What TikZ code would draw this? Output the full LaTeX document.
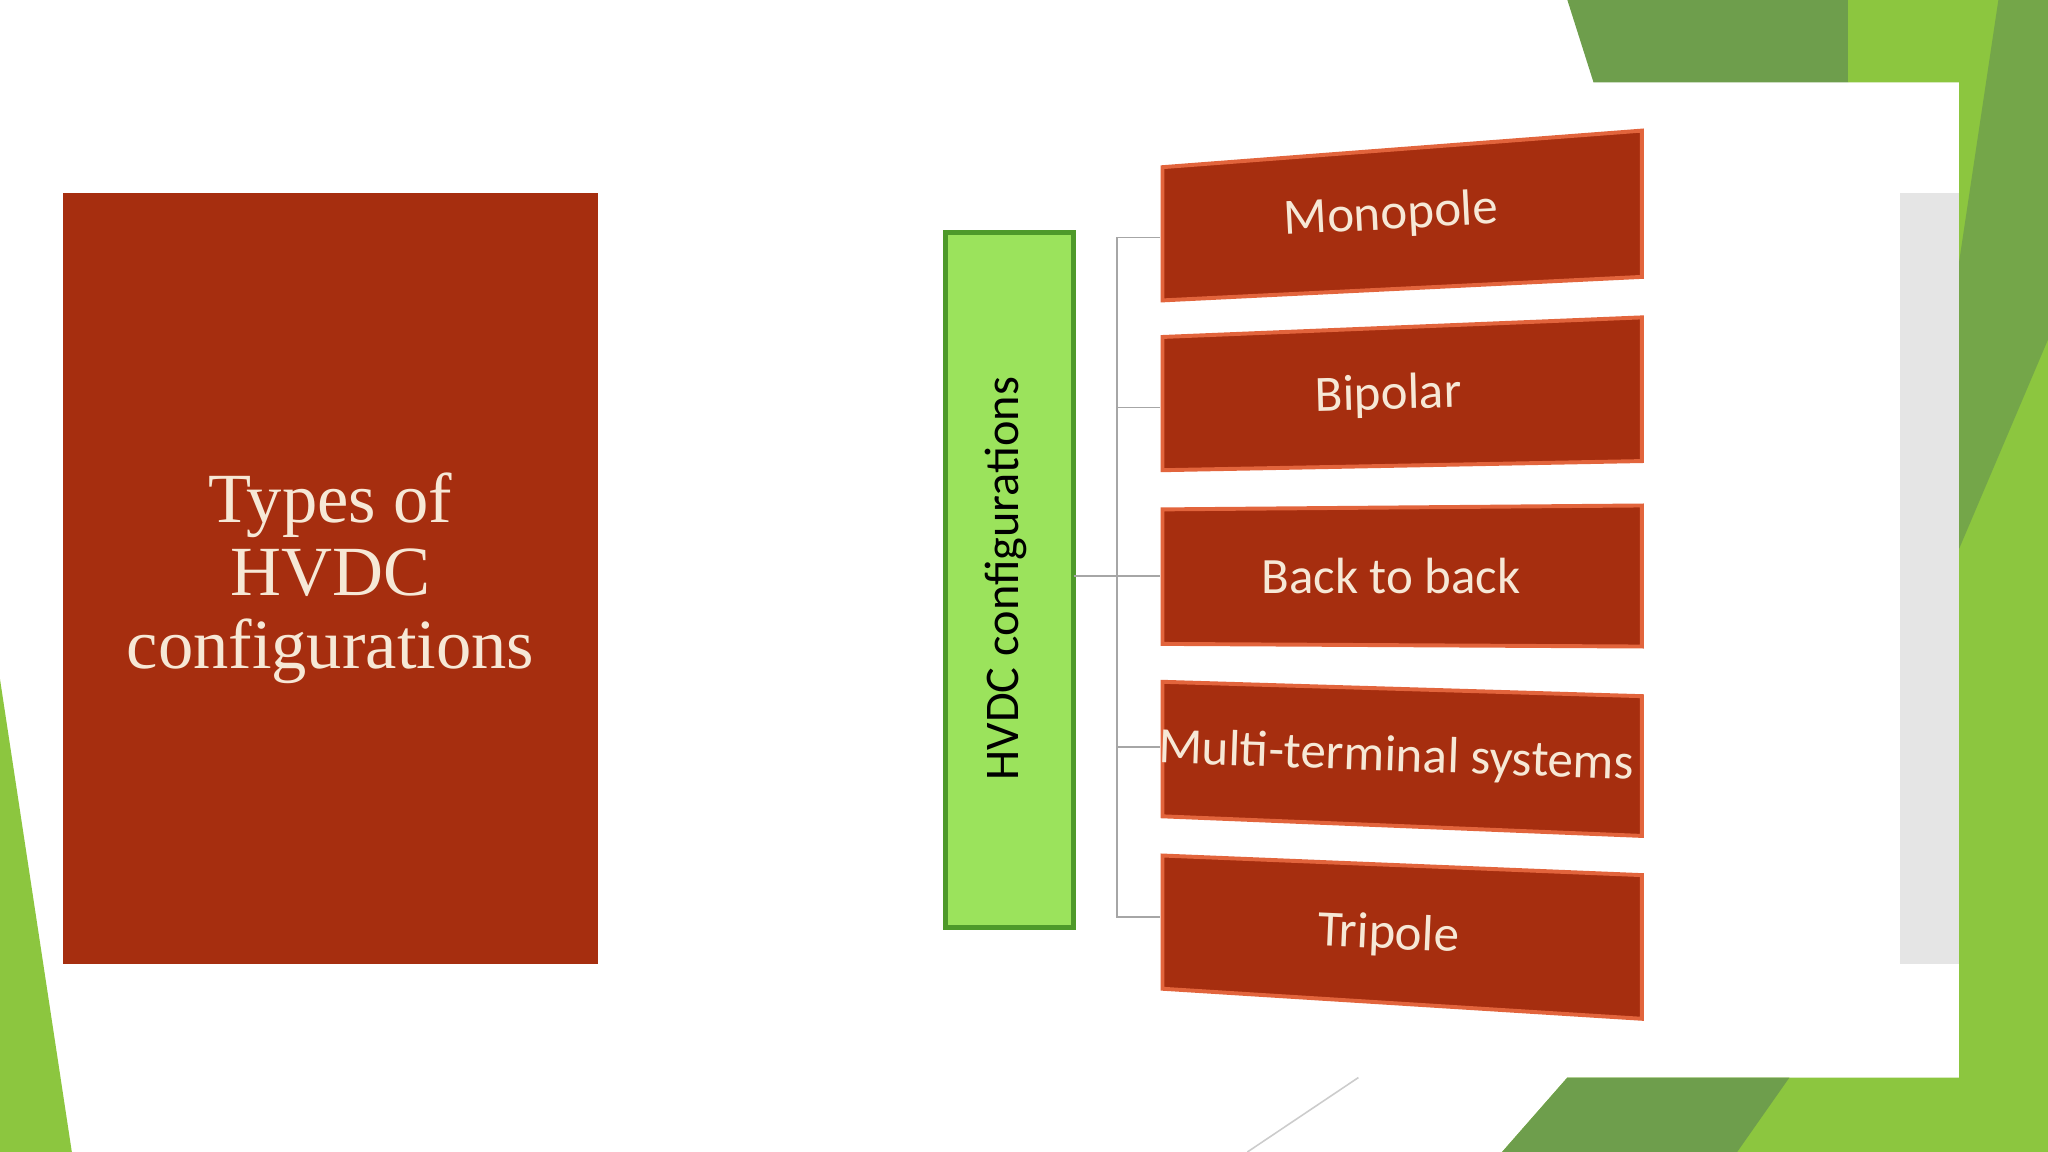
\documentclass[tikz,border=0pt]{standalone}
\usepackage{fontspec}
\setmainfont{Liberation Serif}
\newfontfamily\boxfont{Carlito}
\definecolor{rust}{HTML}{A62E0F}
\definecolor{rustedge}{HTML}{E2643C}
\definecolor{cream}{HTML}{F6E8D6}
\definecolor{lgreen}{HTML}{8CC63F}
\definecolor{dgreen}{HTML}{6E9E4C}
\definecolor{bargreen}{HTML}{9BE35C}
\definecolor{baredge}{HTML}{4E9A2A}
\tikzset{
 item/.style={fill=rust,draw=rustedge,line width=1.5pt},
 itemtxt/.style={text=cream,font=\boxfont\fontsize{19.5}{22}\selectfont},
 conn/.style={draw=gray!70,line width=0.6pt}
}
\begin{document}
\begin{tikzpicture}[x=0.5pt,y=-0.5pt]
\useasboundingbox (0,0) rectangle (1568,882);
\fill[white] (0,0) rectangle (1568,882);
% green decoration
\fill[dgreen] (1200,0)--(1415,0)--(1415,63)--(1220,63)--cycle;
\fill[lgreen] (1415,0)--(1568,0)--(1568,882)--(1500,882)--(1500,63)--(1415,63)--cycle;
\fill[dgreen!80!lgreen] (1530,0)--(1568,0)--(1568,260)--(1500,420)--(1500,200)--cycle;
\fill[lgreen] (1150,882)--(1200,825)--(1500,825)--(1500,882)--cycle;
\fill[dgreen] (1150,882)--(1200,825)--(1370,825)--(1330,882)--cycle;
\fill[lgreen] (0,520)--(55,882)--(0,882)--cycle;
\draw[gray!40,line width=0.6pt] (955,882)--(1040,825);
% panels
\fill[rust] (48,148) rectangle (458,738);
\node[text=cream,align=center,font=\fontsize{27}{28}\selectfont] (title) at (253,443) {Types of\\HVDC\\configurations};
\fill[gray!20] (1455,148) rectangle (1500,738);
% green bar
\draw[fill=bargreen,draw=baredge,line width=2pt] (724,178) rectangle (822,710);
\node[rotate=90,font=\boxfont\fontsize{18.5}{20}\selectfont] (bar) at (770,443) {HVDC configurations};
\coordinate (barr) at (822,441);
\coordinate (jn) at (855,441);
% items
\draw[item] (890,128)--(1257,100)--(1257,212)--(890,230)--cycle;
\node[itemtxt,rotate=3] (m1) at (1065,165) {Monopole};
\draw[item] (890,258)--(1257,243)--(1257,353)--(890,360)--cycle;
\node[itemtxt,rotate=1.5] (m2) at (1063,303) {Bipolar};
\draw[item] (890,390)--(1257,387)--(1257,495)--(890,493)--cycle;
\node[itemtxt] (m3) at (1065,441) {Back to back};
\draw[item] (890,522)--(1257,533)--(1257,640)--(890,625)--cycle;
\node[itemtxt,rotate=-2] (m4) at (1069,580) {Multi-terminal systems};
\draw[item] (890,655)--(1257,670)--(1257,780)--(890,757)--cycle;
\node[itemtxt,rotate=-2.5] (m5) at (1063,716) {Tripole};
% connectors
\coordinate (t1) at (855,182); \coordinate (e1) at (888,182);
\coordinate (t2) at (855,312); \coordinate (e2) at (888,312);
\coordinate (e3) at (888,441);
\coordinate (t4) at (855,572); \coordinate (e4) at (888,572);
\coordinate (t5) at (855,702); \coordinate (e5) at (888,702);
\draw[conn] (barr)--(jn)--(e3);
\draw[conn] (e1)--(t1)--(t5)--(e5);
\draw[conn] (t2)--(e2);
\draw[conn] (t4)--(e4);
\end{tikzpicture}
\end{document}
